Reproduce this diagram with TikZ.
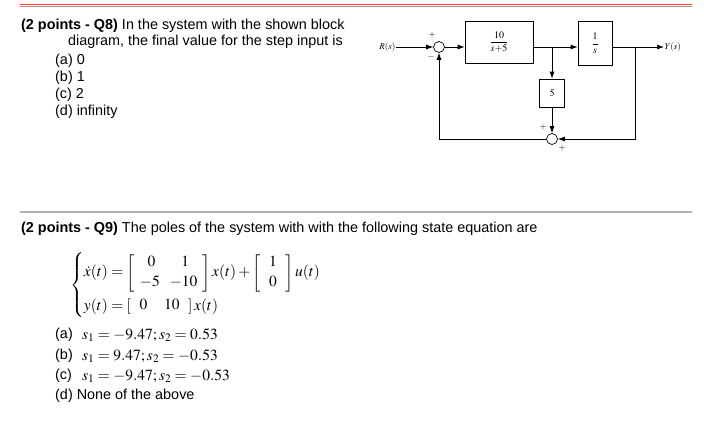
\documentclass[tikz,border=0pt]{standalone}
\usepackage{amsmath}
\usepackage{mathptmx}
\usepackage{fontspec}
\setmainfont{Liberation Sans}
\usetikzlibrary{arrows.meta}
\begin{document}
\begin{tikzpicture}[x=1pt,y=-1pt,
  txt/.style={anchor=west,inner sep=0pt,font=\fontsize{14.4}{16}\selectfont},
  blk/.style={draw,line width=0.7pt,inner sep=0pt},
  sum/.style={draw,circle,line width=0.7pt,minimum size=11pt,inner sep=0pt},
  sig/.style={line width=0.7pt,-{Latex[length=7pt,width=5pt]}},
  ln/.style={line width=0.7pt},
  sm/.style={font=\fontsize{9}{10}\selectfont\rmfamily,inner sep=0.5pt},
  mth/.style={anchor=west,inner sep=0pt,font=\fontsize{15.5}{17}\selectfont}]
\useasboundingbox (0,0) rectangle (704,424);
% rules
\draw[line width=0.6pt,color=brown!70!red] (20,4) -- (692,4);
\draw[line width=0.6pt,color=gray!80] (20,6.5) -- (692,6.5);
\draw[line width=1.2pt,color=gray!60] (20,212) -- (692,212);
% Q8 text
\node[txt] (q8a) at (21,26) {\textbf{(2 points - Q8)} In the system with the shown block};
\node[txt] (q8b) at (68,42) {diagram, the final value for the step input is};
\node[txt] (q8c) at (55,61) {(a) 0};
\node[txt] (q8d) at (55,78) {(b) 1};
\node[txt] (q8e) at (55,95) {(c) 2};
\node[txt] (q8f) at (55,112) {(d) infinity};
% block diagram
\node[sm,anchor=east] (R) at (396,47) {$R(s)$};
\node[sum] (s1) at (439,47) {};
\node[blk,minimum width=68pt,minimum height=42pt] (G1) at (499,42) {\fontsize{10}{11}\selectfont$\dfrac{10}{s{+}5}$};
\node[blk,minimum width=34pt,minimum height=44pt] (G2) at (595,43) {\fontsize{10}{11}\selectfont$\dfrac{1}{s}$};
\node[blk,minimum width=25pt,minimum height=28pt] (G3) at (552,93) {\fontsize{10}{11}\selectfont$5$};
\node[sum] (s2) at (552,139) {};
\node[sm,anchor=west] (Y) at (664,47) {$Y(s)$};
\coordinate (br) at (552,47);
\coordinate (tap) at (635,47);
\draw[sig] (R) -- (s1);
\draw[sig] (s1) -- (s1 -| G1.west);
\draw[ln] (G1.east |- br) -- (br);
\draw[sig] (br) -- (br -| G2.west);
\draw[sig] (br) -- (G3.north);
\draw[sig] (G2.east |- tap) -- (Y.west);
\draw[sig] (tap) |- (s2.east);
\draw[sig] (G3.south) -- (s2.north);
\draw[sig] (s2.west) -| (s1.south);
\node[sm] (p1) at (432,35) {$+$};
\node[sm] (m1) at (431,57) {$-$};
\node[sm] (p2) at (543,127) {$+$};
\node[sm] (p3) at (562,148) {$+$};
% Q9
\node[txt] (q9) at (21,229) {\textbf{(2 points - Q9)} The poles of the system with with the following state equation are};
\node[mth] (eq) at (70,285) {$\left\{\begin{array}{@{}l@{}}
\dot x(t)=\left[\begin{array}{cc}\;\;0\; & \;\;1\;\\[3pt] -5 & -10\end{array}\right]x(t)+\left[\begin{array}{c}\;1\;\\[3pt]0\end{array}\right]u(t)\\[16pt]
y(t)=\left[\begin{array}{cc}\;0\; & \;10\;\end{array}\right]x(t)
\end{array}\right.$};
\node[txt] (q9a) at (55,335) {(a)};
\node[txt] (q9b) at (55,356) {(b)};
\node[txt] (q9c) at (55,376) {(c)};
\node[txt] (q9d) at (55,396) {(d) None of the above};
\node[mth] (ma) at (82,335) {$s_1=-9.47;s_2=0.53$};
\node[mth] (mb) at (82,356) {$s_1=9.47;s_2=-0.53$};
\node[mth] (mc) at (82,376) {$s_1=-9.47;s_2=-0.53$};
\end{tikzpicture}
\end{document}
